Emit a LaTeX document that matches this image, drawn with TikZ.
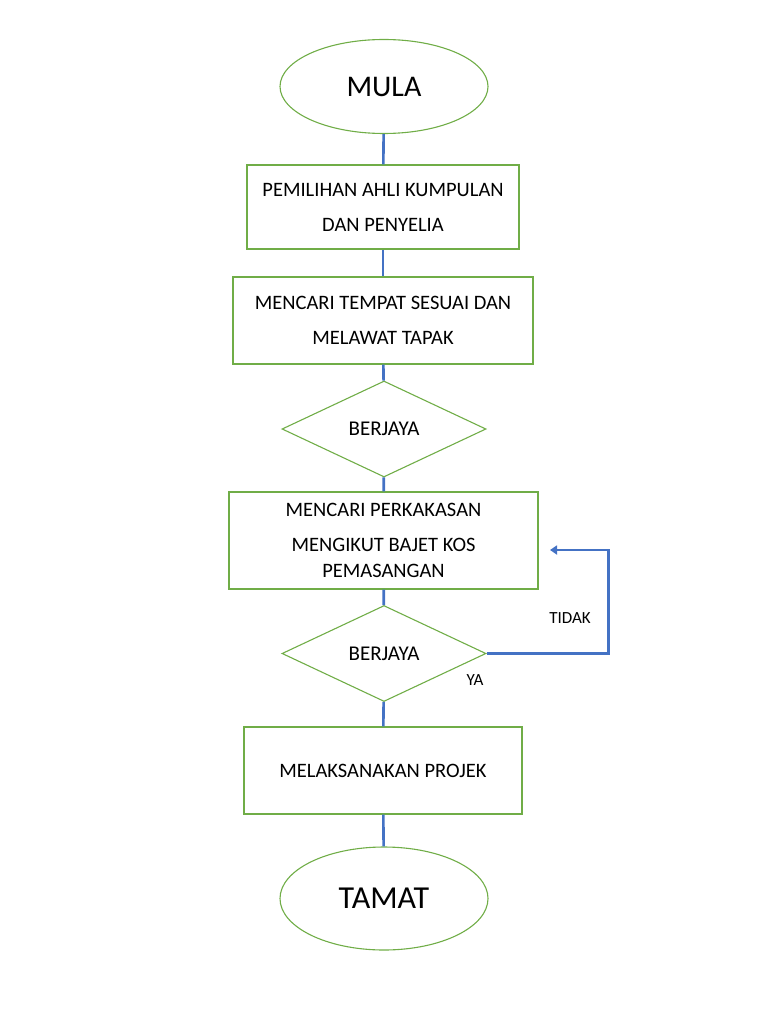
\documentclass[tikz,border=0pt]{standalone}
\usepackage{fontspec}
\setmainfont{Carlito}
\usepackage{xcolor}
\definecolor{boxgreen}{RGB}{112,173,71}
\definecolor{lineblue}{RGB}{68,114,196}
\usepackage{tikz}
\usetikzlibrary{positioning,shapes.geometric,arrows.meta,calc}
\tikzset{
  terminal/.style={ellipse,draw=boxgreen,line width=1.1pt,inner sep=0pt,
    minimum width=208pt,minimum height=94pt,font=\fontsize{30}{36}\selectfont},
  process/.style={rectangle,draw=boxgreen,line width=1.1pt,inner sep=0pt,align=center,
    font=\fontsize{20.5}{35}\selectfont},
  decision/.style={diamond,draw=boxgreen,line width=1.1pt,inner sep=0pt,
    minimum width=204pt,minimum height=96pt,font=\fontsize{21}{24}\selectfont},
  flowline/.style={draw=lineblue,line width=2.6pt},
  branchlabel/.style={font=\fontsize{17}{20}\selectfont,inner sep=0pt}
}
\begin{document}
\begin{tikzpicture}[x=1pt,y=-1pt]
  \useasboundingbox (0,0) rectangle (768,1024);
  % Langkah-langkah carta alir
  \node[terminal] (mula) at (384,86.5) {MULA};
  \node[process,minimum width=272pt,minimum height=84pt] (pilih) at (383,207) {PEMILIHAN AHLI KUMPULAN\\DAN PENYELIA};
  \node[process,minimum width=300pt,minimum height=87pt] (tapak) at (383,320.5) {MENCARI TEMPAT SESUAI DAN\\MELAWAT TAPAK};
  \node[decision] (berjaya1) at (384,429) {BERJAYA};
  \node[process,minimum width=309pt,minimum height=97pt] (alat) at (383.5,540.5) {MENCARI PERKAKASAN\\MENGIKUT BAJET KOS\\[-9pt]PEMASANGAN};
  \node[decision] (berjaya2) at (384,653.5) {BERJAYA};
  \node[process,minimum width=278pt,minimum height=87pt] (projek) at (383,770.5) {MELAKSANAKAN PROJEK};
  \node[terminal,minimum height=103pt,font=\fontsize{32}{38}\selectfont] (tamat) at (384,898.5) {TAMAT};
  % Sambungan
  \draw[flowline] (mula) -- (pilih);
  \draw[flowline] (pilih) -- (tapak);
  \draw[flowline] (tapak) -- (berjaya1);
  \draw[flowline] (berjaya1) -- (alat);
  \draw[flowline] (alat) -- (berjaya2);
  \draw[flowline] (berjaya2) -- (projek);
  \draw[flowline] (projek) -- (tamat);
  \coordinate (balik) at (550,550);
  \draw[flowline,-{Triangle[length=7pt,width=9pt]}] (berjaya2.east) -- ++(122,0) |- (balik);
  \node[branchlabel] (tidak) at (570,618) {TIDAK};
  \node[branchlabel] (ya) at (475,680) {YA};
\end{tikzpicture}
\end{document}
